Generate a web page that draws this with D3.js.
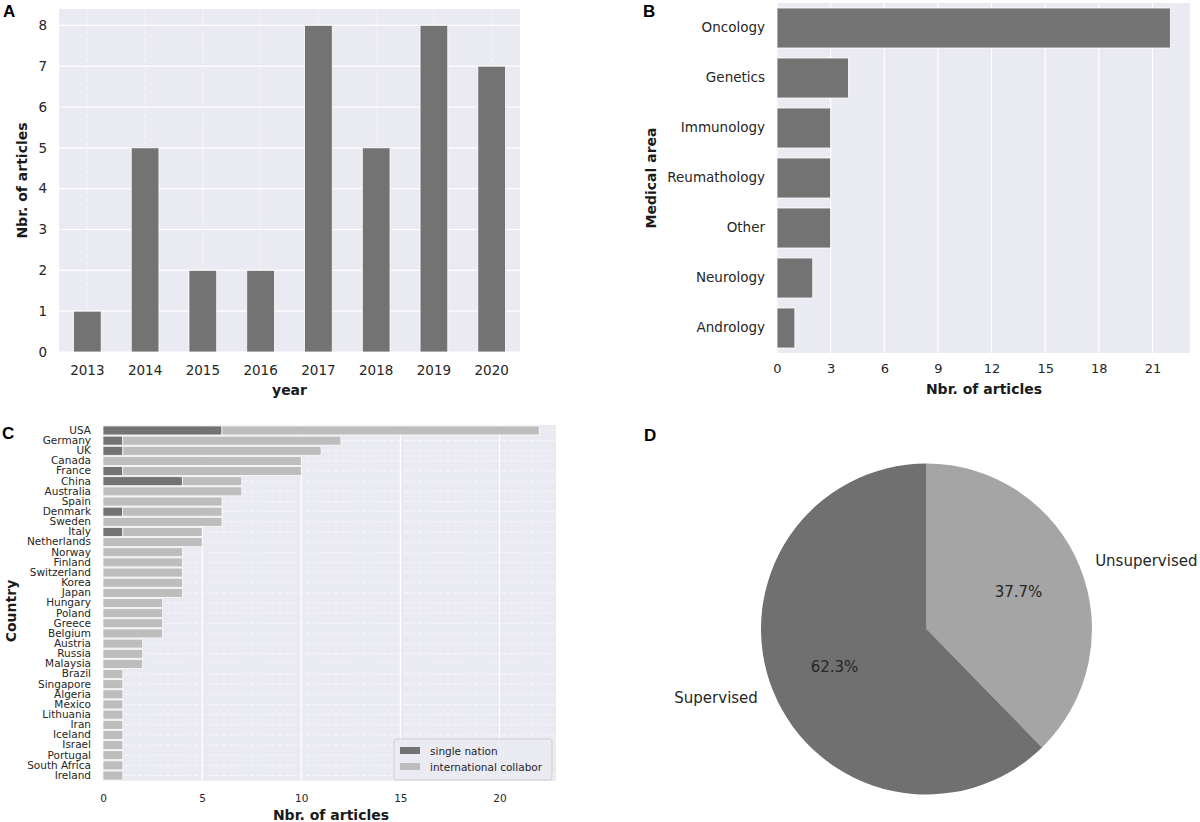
<!DOCTYPE html>
<html><head><meta charset="utf-8">
<script src="https://cdn.jsdelivr.net/npm/d3@7"></script>
<style>
body{margin:0;background:#fff}
svg{display:block}
text{font-family:"DejaVu Sans",sans-serif;fill:#262626}
.letter{font-family:"Liberation Sans",Arial,sans-serif;font-weight:bold;fill:#000}
.axtitle{font-weight:bold;font-size:14px;fill:#1a1a1a}
</style>
</head><body>
<svg id="c" width="1200" height="822"></svg>
<script>
// ---------- data ----------
const years = ["2013","2014","2015","2016","2017","2018","2019","2020"];
const yearCounts = [1,5,2,2,8,5,8,7];
const ticksA = [0,1,2,3,4,5,6,7,8];

const areas = ["Oncology","Genetics","Immunology","Reumathology","Other","Neurology","Andrology"];
const areaCounts = [22,4,3,3,3,2,1];
const ticksB = [0,3,6,9,12,15,18,21];

const countries = ["USA","Germany","UK","Canada","France","China","Australia","Spain","Denmark","Sweden","Italy","Netherlands","Norway","Finland","Switzerland","Korea","Japan","Hungary","Poland","Greece","Belgium","Austria","Russia","Malaysia","Brazil","Singapore","Algeria","Mexico","Lithuania","Iran","Iceland","Israel","Portugal","South Africa","Ireland"];
const countryTotal = [22,12,11,10,10,7,7,6,6,6,5,5,4,4,4,4,4,3,3,3,3,2,2,2,1,1,1,1,1,1,1,1,1,1,1];
const countrySingle = [6,1,1,0,1,4,0,0,1,0,1,0,0,0,0,0,0,0,0,0,0,0,0,0,0,0,0,0,0,0,0,0,0,0,0];
const seriesC = ["single nation","international collabor"];
const ticksC = [0,5,10,15,20];

const methods = ["Unsupervised","Supervised"];
const methodPct = [37.7,62.3];

// ---------- style ----------
const BG = "#eaeaf2", DARK = "#737373", LIGHT = "#bdbdbd";
const svg = d3.select("#c");

function letter(t,x,y){ svg.append("text").attr("class","letter").attr("x",x).attr("y",y).attr("font-size",17).text(t); }

// ---------- Panel A ----------
(function(){
  const L=59,R=520,T=9,B=352;
  const g = svg.append("g");
  const x = d3.scaleBand().domain(years).range([L,R]).paddingInner(0.52).paddingOuter(0.25);
  const y = d3.scaleLinear().domain([0,8.4]).range([B,T]);
  g.append("rect").attr("x",L).attr("y",T).attr("width",R-L).attr("height",B-T).attr("fill",BG);
  g.selectAll(".gy").data(ticksA).join("line").attr("x1",L).attr("x2",R).attr("y1",d=>y(d)).attr("y2",d=>y(d)).attr("stroke","#fff").attr("stroke-width",1.2);
  g.selectAll(".gx").data(years).join("line").attr("x1",d=>x(d)+x.bandwidth()/2).attr("x2",d=>x(d)+x.bandwidth()/2).attr("y1",T).attr("y2",B).attr("stroke","#fff").attr("stroke-width",0.8).attr("stroke-dasharray","4,3").attr("opacity",0.8);
  g.selectAll(".bar").data(years).join("rect").attr("x",d=>x(d)).attr("width",x.bandwidth()).attr("y",(d,i)=>y(yearCounts[i])).attr("height",(d,i)=>B-y(yearCounts[i])).attr("fill",DARK).attr("stroke","#fff").attr("stroke-width",0.8);
  const ya = g.append("g").attr("transform",`translate(${L},0)`).call(d3.axisLeft(y).tickValues(ticksA).tickSize(0).tickPadding(12).tickFormat(d3.format("d")));
  ya.select(".domain").remove(); ya.selectAll("text").attr("font-size",13.5).attr("fill","#262626");
  const xa = g.append("g").attr("transform",`translate(0,${B})`).call(d3.axisBottom(x).tickSize(0).tickPadding(13));
  xa.select(".domain").remove(); xa.selectAll("text").attr("font-size",13.5).attr("fill","#262626");
  g.append("text").attr("class","axtitle").attr("x",(L+R)/2).attr("y",395).attr("text-anchor","middle").text("year");
  g.append("text").attr("class","axtitle").attr("transform",`translate(27,${(T+B)/2}) rotate(-90)`).attr("text-anchor","middle").text("Nbr. of articles");
  letter("A",3,17);
})();

// ---------- Panel B ----------
(function(){
  const L=777,R=1190,T=3,B=353;
  const g = svg.append("g");
  const x = d3.scaleLinear().domain([0,23.1]).range([L,R]);
  const y = d3.scaleBand().domain(areas).range([T,B]).paddingInner(0.2).paddingOuter(0.1);
  g.append("rect").attr("x",L).attr("y",T).attr("width",R-L).attr("height",B-T).attr("fill",BG);
  g.selectAll(".gx").data(ticksB).join("line").attr("x1",d=>x(d)).attr("x2",d=>x(d)).attr("y1",T).attr("y2",B).attr("stroke","#fff").attr("stroke-width",1.2);
  g.selectAll(".bar").data(areas).join("rect").attr("y",d=>y(d)).attr("height",y.bandwidth()).attr("x",L).attr("width",(d,i)=>x(areaCounts[i])-L).attr("fill",DARK).attr("stroke","#fff").attr("stroke-width",0.8);
  const ya = g.append("g").attr("transform",`translate(${L},0)`).call(d3.axisLeft(y).tickSize(0).tickPadding(12));
  ya.select(".domain").remove(); ya.selectAll("text").attr("font-size",13.5).attr("fill","#262626");
  const xa = g.append("g").attr("transform",`translate(0,${B})`).call(d3.axisBottom(x).tickValues(ticksB).tickSize(0).tickPadding(11).tickFormat(d3.format("d")));
  xa.select(".domain").remove(); xa.selectAll("text").attr("font-size",13).attr("fill","#262626");
  g.append("text").attr("class","axtitle").attr("x",984).attr("y",394).attr("text-anchor","middle").text("Nbr. of articles");
  g.append("text").attr("class","axtitle").attr("transform",`translate(656,${(T+B)/2}) rotate(-90)`).attr("text-anchor","middle").text("Medical area");
  letter("B",643,17);
})();

// ---------- Panel C ----------
(function(){
  const L=103,R=556,T=425,B=781;
  const g = svg.append("g");
  const x = d3.scaleLinear().domain([0,22.85]).range([L,R]);
  const y = d3.scaleBand().domain(countries).range([T,B]).paddingInner(0.12).paddingOuter(0.1);
  g.append("rect").attr("x",L).attr("y",T).attr("width",R-L).attr("height",B-T).attr("fill",BG);
  g.selectAll(".gy").data(countries).join("line").attr("x1",L).attr("x2",R).attr("y1",d=>y(d)+y.bandwidth()/2).attr("y2",d=>y(d)+y.bandwidth()/2).attr("stroke","#fff").attr("stroke-width",0.8).attr("stroke-dasharray","4,3").attr("opacity",0.8);
  g.selectAll(".gx").data(ticksC).join("line").attr("x1",d=>x(d)).attr("x2",d=>x(d)).attr("y1",T).attr("y2",B).attr("stroke","#fff").attr("stroke-width",1.2);
  const intl = countryTotal.map((t,i)=>t-countrySingle[i]);
  g.selectAll(".bs").data(countries).join("rect").attr("y",d=>y(d)).attr("height",y.bandwidth()).attr("x",x(0)).attr("width",(d,i)=>x(countrySingle[i])-x(0)).attr("fill",DARK).attr("stroke","#fff").attr("stroke-width",0.7);
  g.selectAll(".bi").data(countries).join("rect").attr("y",d=>y(d)).attr("height",y.bandwidth()).attr("x",(d,i)=>x(countrySingle[i])).attr("width",(d,i)=>x(countrySingle[i]+intl[i])-x(countrySingle[i])).attr("fill",LIGHT).attr("stroke","#fff").attr("stroke-width",0.7);
  const ya = g.append("g").attr("transform",`translate(${L},0)`).call(d3.axisLeft(y).tickSize(0).tickPadding(12));
  ya.select(".domain").remove(); ya.selectAll("text").attr("font-size",10.5).attr("fill","#262626");
  const xa = g.append("g").attr("transform",`translate(0,${B})`).call(d3.axisBottom(x).tickValues(ticksC).tickSize(0).tickPadding(14).tickFormat(d3.format("d")));
  xa.select(".domain").remove(); xa.selectAll("text").attr("font-size",10.5).attr("fill","#262626");
  g.append("text").attr("class","axtitle").attr("x",331).attr("y",820).attr("text-anchor","middle").text("Nbr. of articles");
  g.append("text").attr("class","axtitle").attr("transform",`translate(16,${(T+B)/2+8}) rotate(-90)`).attr("text-anchor","middle").text("Country");
  // legend
  const lg = g.append("g").attr("transform","translate(394,739)");
  lg.append("rect").attr("width",158).attr("height",41).attr("rx",3).attr("fill",BG).attr("fill-opacity",0.8).attr("stroke","#d0d0d0");
  const col = [DARK, LIGHT];
  seriesC.forEach((s,i)=>{
    lg.append("rect").attr("x",6).attr("y",8+i*16).attr("width",20).attr("height",7).attr("fill",col[i]);
    lg.append("text").attr("x",36).attr("y",15.5+i*16).attr("font-size",10.5).text(s);
  });
  letter("C",2,439);
})();

// ---------- Panel D ----------
(function(){
  const cx=926.5, cy=629, r=165.5;
  const g = svg.append("g").attr("transform",`translate(${cx},${cy})`);
  const colors = {"Unsupervised":"#a5a5a5","Supervised":"#707070"};
  const pie = d3.pie().sort(null).value((d,i)=>methodPct[i]);
  const arcs = pie(methods);
  const arc = d3.arc().innerRadius(0).outerRadius(r);
  g.selectAll("path").data(arcs).join("path").attr("d",arc).attr("fill",d=>colors[d.data]);
  arcs.forEach((a,i)=>{
    const m=(a.startAngle+a.endAngle)/2;
    const lx=Math.sin(m)*r*1.1, ly=-Math.cos(m)*r*1.1;
    g.append("text").attr("x",lx).attr("y",ly).attr("dy","0.35em").attr("font-size",15).attr("fill","#1a1a1a")
      .attr("text-anchor", lx>0?"start":"end").text(a.data);
    const px=Math.sin(m)*r*0.6, py=-Math.cos(m)*r*0.6;
    g.append("text").attr("x",px).attr("y",py).attr("dy","0.35em").attr("font-size",15).attr("fill","#1a1a1a")
      .attr("text-anchor","middle").text(methodPct[i].toFixed(1)+"%");
  });
  letter("D",644,441);
})();
</script>
</body></html>
